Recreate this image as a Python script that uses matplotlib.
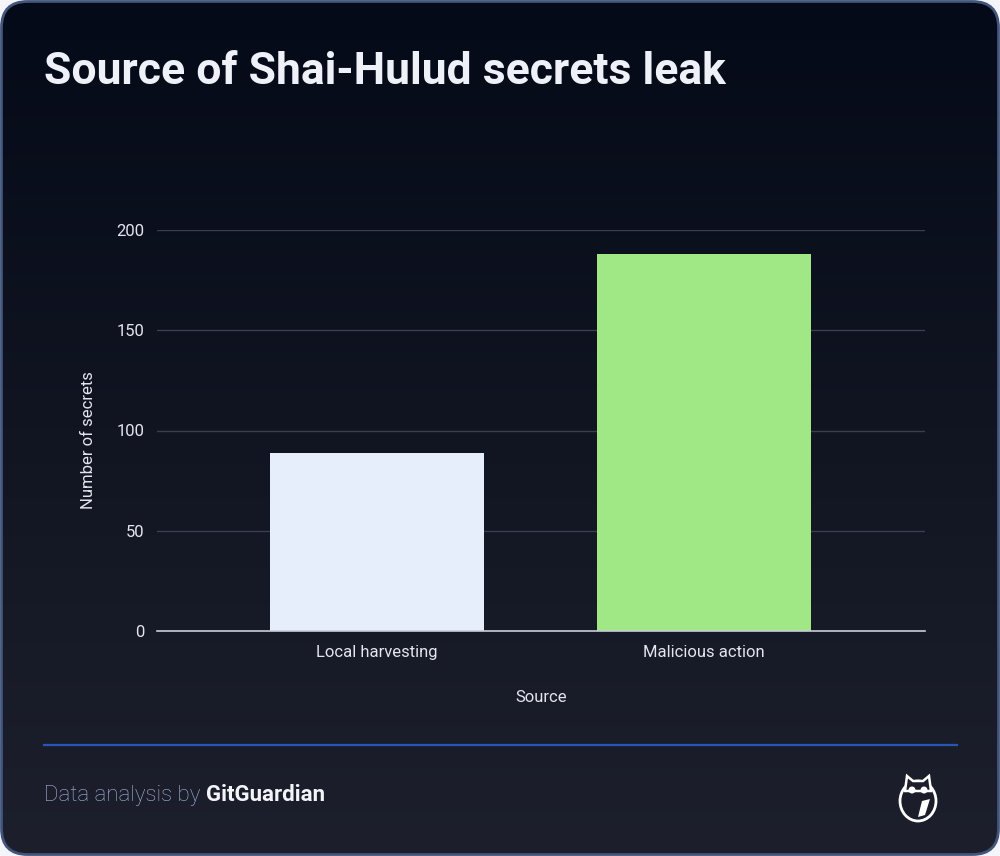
import numpy as np
import matplotlib.pyplot as plt
from matplotlib.patches import FancyBboxPatch, Ellipse, Polygon

# Data
categories = ["Local harvesting", "Malicious action"]
counts = [89, 188]
bar_colors = ["#e6edfb", "#9fe885"]
yticks = [0, 50, 100, 150, 200]

plt.rcParams['font.family'] = ['Roboto', 'DejaVu Sans']

fig = plt.figure(figsize=(10, 8.56), dpi=100)
fig.patch.set_facecolor("#f4f5f8")

# background card with vertical gradient
bg = fig.add_axes([0, 0, 1, 1])
bg.set_xlim(0, 1000)
bg.set_ylim(856, 0)
bg.axis("off")
card = FancyBboxPatch((1.5, 1.5), 997, 853, boxstyle="round,pad=0,rounding_size=26",
                      facecolor="none", edgecolor="#41547a", linewidth=2, zorder=3)
bg.add_patch(card)
top = np.array([5, 10, 24]) / 255
bottom = np.array([29, 32, 44]) / 255
t = np.linspace(0, 1, 256)[:, None, None]
grad = top * (1 - t) + bottom * t
grad = np.repeat(grad, 2, axis=1)
im = bg.imshow(grad, extent=[0, 1000, 856, 0], aspect="auto", zorder=1)
im.set_clip_path(card)

# title
bg.text(44, 72, "Source of Shai-Hulud secrets leak", fontsize=32, fontweight="bold",
        color="#eef1f8", va="center", ha="left", zorder=4)

# footer
bg.plot([44, 957], [745, 745], color="#2657b3", linewidth=1.6, zorder=4)
t1 = bg.text(44, 795, "Data analysis by ", fontsize=16, fontweight="light", color="#a6b5dc",
             va="center", ha="left", zorder=4)
bg.annotate("GitGuardian", xy=(1, 0.5), xycoords=t1, fontsize=16, fontweight="bold",
            color="#f2f4f8", va="center", ha="left", zorder=4)

# simple owl mark
owl_body = Ellipse((918, 801), 36, 40, facecolor="none", edgecolor="white", linewidth=2, zorder=4)
bg.add_patch(owl_body)
bg.add_patch(Polygon([[905, 791], [907, 776], [913, 781], [923, 781], [929, 776], [931, 791]],
                     closed=True, facecolor="#1c1f2b", edgecolor="white", linewidth=1.8, zorder=5))
bg.add_patch(Ellipse((912, 790), 7, 7, facecolor="white", zorder=6))
bg.add_patch(Ellipse((924, 790), 7, 7, facecolor="white", zorder=6))
bg.add_patch(Polygon([[922, 801], [930, 799], [925, 815], [918, 817]], closed=True,
                     facecolor="white", zorder=6))

# chart
ax = fig.add_axes([0.157, 1 - 631 / 856, 0.768, (631 - 230) / 856])
ax.set_facecolor("none")
x = np.arange(len(categories))
ax.bar(x, counts, width=0.652, color=bar_colors, zorder=3)
ax.set_xlim(-0.673, 1.676)
ax.set_ylim(0, 200)
ax.set_yticks(yticks)
ax.set_xticks(x)
ax.set_xticklabels(categories)
ax.grid(axis="y", color="#3a3e4d", linewidth=1, zorder=0)
for s in ["top", "right", "left"]:
    ax.spines[s].set_visible(False)
ax.spines["bottom"].set_color("#c9cdd6")
ax.spines["bottom"].set_linewidth(1.2)
ax.spines["bottom"].set_zorder(4)
ax.tick_params(axis="both", length=0, labelsize=12, labelcolor="#e3e6ee")
ax.tick_params(axis="y", pad=9)
ax.tick_params(axis="x", pad=10)
ax.set_xlabel("Source", fontsize=12, color="#e3e6ee", labelpad=22)
ax.set_ylabel("Number of secrets", fontsize=12, color="#e3e6ee")
ax.yaxis.set_label_coords(-0.08, 0.475)

fig.savefig("out.png", dpi=100, facecolor=fig.get_facecolor())
